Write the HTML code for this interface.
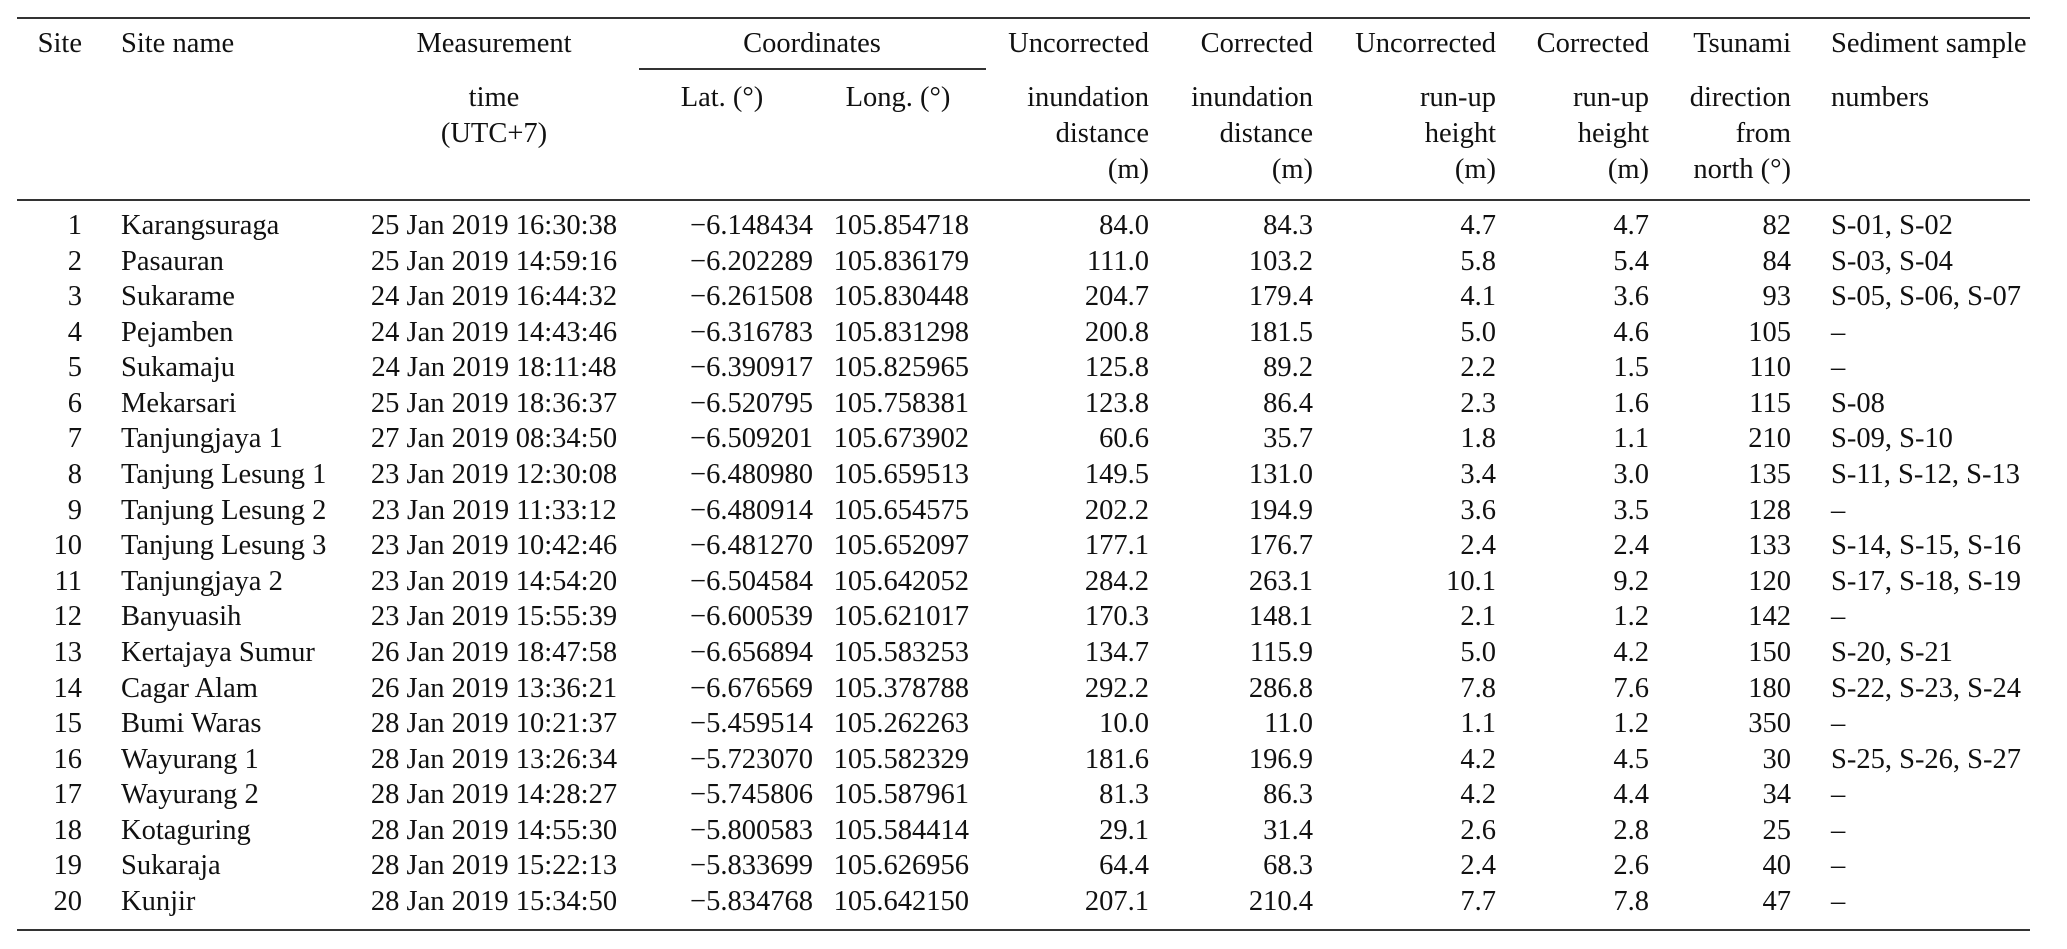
<!DOCTYPE html>
<html><head><meta charset="utf-8"><style>
body{margin:0;background:#fff;}
#w{position:relative;width:2067px;height:949px;overflow:hidden;font-family:"Liberation Serif",serif;font-size:28.5px;color:#111;}
.t{position:absolute;line-height:34px;white-space:nowrap;}
.r{text-align:right;}
.c{text-align:center;}
.rule{position:absolute;background:#333;}
</style></head><body><div id="w">
<div class="rule" style="left:17px;top:17px;width:2013px;height:2px"></div>
<div class="rule" style="left:639px;top:68px;width:347px;height:2px"></div>
<div class="rule" style="left:17px;top:199px;width:2013px;height:2px"></div>
<div class="rule" style="left:17px;top:929px;width:2013px;height:2px"></div>
</div>
<script>
var W=document.getElementById('w');
function put(txt,x,cy,al){var d=document.createElement('div');d.className='t '+(al||'');d.textContent=txt;d.style.top=(cy-17)+'px';
if(al=='r'){d.style.right=(2067-x)+'px';}else if(al=='c'){d.style.left=(x-200)+'px';d.style.width='400px';}else{d.style.left=x+'px';}
W.appendChild(d);}
var L1=44,L2=98,L3=134,L4=170;
put('Site',82,L1,'r');put('Site name',121,L1);
put('Measurement',494,L1,'c');put('time',494,L2,'c');put('(UTC+7)',494,L3,'c');
put('Coordinates',812,L1,'c');put('Lat. (°)',722,L2,'c');put('Long. (°)',898,L2,'c');
[['Uncorrected','inundation','distance','(m)',1149],['Corrected','inundation','distance','(m)',1313],['Uncorrected','run-up','height','(m)',1496],['Corrected','run-up','height','(m)',1649],['Tsunami','direction','from','north (°)',1791]].forEach(function(h){put(h[0],h[4],L1,'r');put(h[1],h[4],L2,'r');put(h[2],h[4],L3,'r');put(h[3],h[4],L4,'r');});
put('Sediment sample',1831,L1);put('numbers',1831,L2);
var D=[
[1,'Karangsuraga','25 Jan 2019 16:30:38','−6.148434','105.854718','84.0','84.3','4.7','4.7','82','S-01, S-02'],
[2,'Pasauran','25 Jan 2019 14:59:16','−6.202289','105.836179','111.0','103.2','5.8','5.4','84','S-03, S-04'],
[3,'Sukarame','24 Jan 2019 16:44:32','−6.261508','105.830448','204.7','179.4','4.1','3.6','93','S-05, S-06, S-07'],
[4,'Pejamben','24 Jan 2019 14:43:46','−6.316783','105.831298','200.8','181.5','5.0','4.6','105','–'],
[5,'Sukamaju','24 Jan 2019 18:11:48','−6.390917','105.825965','125.8','89.2','2.2','1.5','110','–'],
[6,'Mekarsari','25 Jan 2019 18:36:37','−6.520795','105.758381','123.8','86.4','2.3','1.6','115','S-08'],
[7,'Tanjungjaya 1','27 Jan 2019 08:34:50','−6.509201','105.673902','60.6','35.7','1.8','1.1','210','S-09, S-10'],
[8,'Tanjung Lesung 1','23 Jan 2019 12:30:08','−6.480980','105.659513','149.5','131.0','3.4','3.0','135','S-11, S-12, S-13'],
[9,'Tanjung Lesung 2','23 Jan 2019 11:33:12','−6.480914','105.654575','202.2','194.9','3.6','3.5','128','–'],
[10,'Tanjung Lesung 3','23 Jan 2019 10:42:46','−6.481270','105.652097','177.1','176.7','2.4','2.4','133','S-14, S-15, S-16'],
[11,'Tanjungjaya 2','23 Jan 2019 14:54:20','−6.504584','105.642052','284.2','263.1','10.1','9.2','120','S-17, S-18, S-19'],
[12,'Banyuasih','23 Jan 2019 15:55:39','−6.600539','105.621017','170.3','148.1','2.1','1.2','142','–'],
[13,'Kertajaya Sumur','26 Jan 2019 18:47:58','−6.656894','105.583253','134.7','115.9','5.0','4.2','150','S-20, S-21'],
[14,'Cagar Alam','26 Jan 2019 13:36:21','−6.676569','105.378788','292.2','286.8','7.8','7.6','180','S-22, S-23, S-24'],
[15,'Bumi Waras','28 Jan 2019 10:21:37','−5.459514','105.262263','10.0','11.0','1.1','1.2','350','–'],
[16,'Wayurang 1','28 Jan 2019 13:26:34','−5.723070','105.582329','181.6','196.9','4.2','4.5','30','S-25, S-26, S-27'],
[17,'Wayurang 2','28 Jan 2019 14:28:27','−5.745806','105.587961','81.3','86.3','4.2','4.4','34','–'],
[18,'Kotaguring','28 Jan 2019 14:55:30','−5.800583','105.584414','29.1','31.4','2.6','2.8','25','–'],
[19,'Sukaraja','28 Jan 2019 15:22:13','−5.833699','105.626956','64.4','68.3','2.4','2.6','40','–'],
[20,'Kunjir','28 Jan 2019 15:34:50','−5.834768','105.642150','207.1','210.4','7.7','7.8','47','–']];
D.forEach(function(r,i){var y=226+i*35.58;
put(String(r[0]),82,y,'r');put(r[1],121,y);put(r[2],494,y,'c');put(r[3],813,y,'r');put(r[4],969,y,'r');
put(r[5],1149,y,'r');put(r[6],1313,y,'r');put(r[7],1496,y,'r');put(r[8],1649,y,'r');put(r[9],1791,y,'r');put(r[10],1831,y);});
</script>
</body></html>
